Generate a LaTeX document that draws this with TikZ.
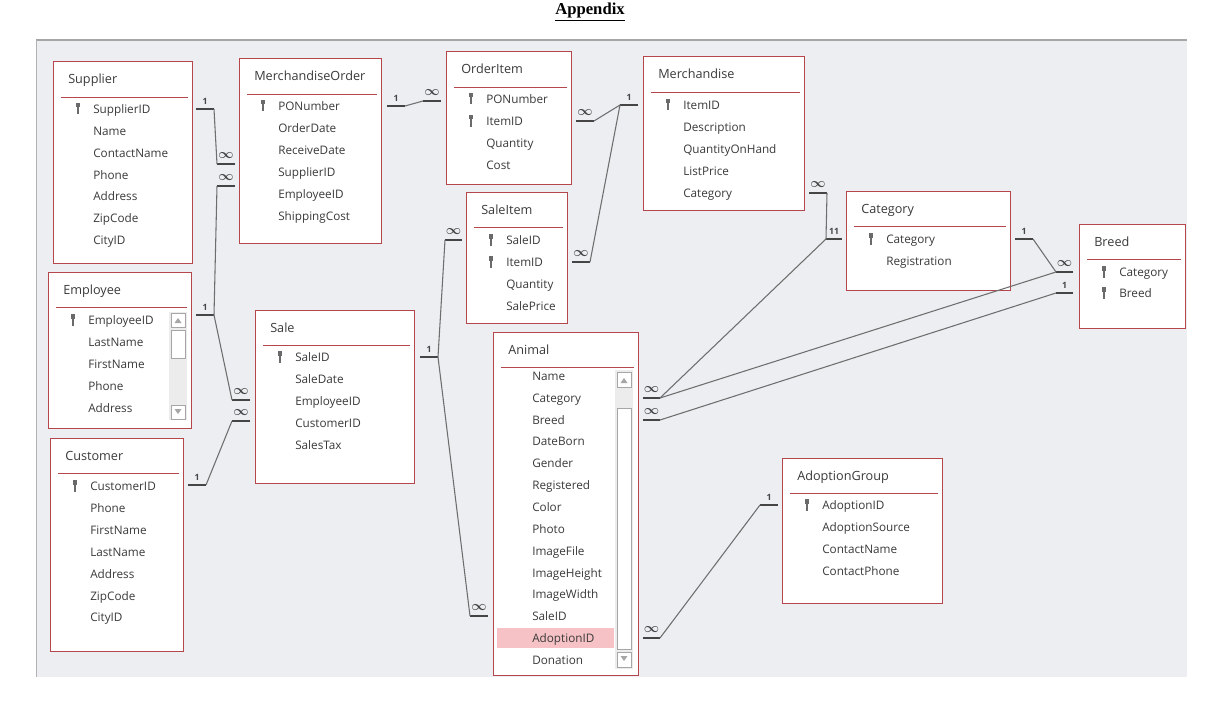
\documentclass[tikz,border=0pt]{standalone}
\usepackage{fontspec}
\usepackage{amsmath}
\setmainfont{Open Sans}
\newfontfamily\titlefont{Liberation Serif}
\definecolor{tblred}{HTML}{B5464C}
\definecolor{txt}{HTML}{3A3A3A}
\definecolor{bg}{HTML}{ECEEF1}
\definecolor{stubc}{HTML}{454545}
\definecolor{relc}{HTML}{6E6E6E}
\definecolor{keyc}{HTML}{6A6A6A}
\definecolor{pinkhl}{HTML}{F6C2C5}
\tikzset{
 tbl/.style={draw=tblred, fill=white, line width=0.75pt},
 sep/.style={draw=tblred, line width=0.7pt},
 ttl/.style={anchor=base west, font=\fontsize{9.5}{11}\selectfont, text=txt, inner sep=0pt},
 fld/.style={anchor=base west, font=\fontsize{8.8}{11}\selectfont, text=txt, inner sep=0pt},
 stub/.style={line width=2.2pt, draw=stubc},
 rel/.style={draw=relc, line width=0.8pt},
 card/.style={font=\fontsize{6.5}{7}\selectfont\bfseries, text=stubc, inner sep=0pt},
 sbar/.style={fill=white, draw=gray!70, line width=0.5pt}
}
\newcommand\tablebox[6]{%
 \draw[tbl] (#1,#2) rectangle (#3,#4);
 \node[ttl] (#6) at (#1+15,#2+22) {#5};
 \draw[sep] (#1+8,#2+35) -- (#3-4,#2+35);}
\newcommand\keyat[2]{%
 \fill[keyc] (#1-2.2,#2-6) rectangle (#1+2.2,#2-1.5);
 \fill[keyc] (#1-1.1,#2-1.5) rectangle (#1+1.1,#2+5.5);}
\newcommand\fld[3]{\node[fld] at (#1,#2+4.5) {#3};}
\newcommand\kfld[3]{\fld{#1}{#2}{#3}\keyat{#1-15}{#2}}
\newcommand\stub[5]{%
 \draw[stub] (#2,#4) -- (#3,#4);
 \coordinate (#1) at (#3,#4);
 \node[card] at ({(#2+#3)/2},#4-8) {#5};}
\newcommand\manysym{\fontsize{10}{10}\selectfont$\boldsymbol{\infty}$}
\begin{document}
\begin{tikzpicture}[x=0.75pt,y=-0.75pt]
\useasboundingbox (0,0) rectangle (1207,724);
% title
\node[font=\titlefont\fontsize{12.5}{14}\selectfont\bfseries, inner sep=0pt] (ttl) at (590,12) {\underline{Appendix}};
% background panel
\fill[bg] (36,40) rectangle (1187,677);
\draw[gray!70, line width=1.6pt] (36,40) -- (1187,40);
\draw[gray!60, line width=0.6pt] (36,40) -- (36,677);

% Supplier
\tablebox{53}{62}{192}{263}{Supplier}{supplier}
\kfld{93}{109}{SupplierID}
\fld{93}{131}{Name}
\fld{93}{153}{ContactName}
\fld{93}{175}{Phone}
\fld{93}{196}{Address}
\fld{93}{218}{ZipCode}
\fld{93}{240}{CityID}

% MerchandiseOrder
\tablebox{239}{59}{381}{243}{MerchandiseOrder}{morder}
\kfld{278}{106}{PONumber}
\fld{278}{128}{OrderDate}
\fld{278}{150}{ReceiveDate}
\fld{278}{172}{SupplierID}
\fld{278}{194}{EmployeeID}
\fld{278}{216}{ShippingCost}

% OrderItem
\tablebox{446}{52}{571}{184}{OrderItem}{orderitem}
\kfld{486}{99}{PONumber}
\kfld{486}{121}{ItemID}
\fld{486}{143}{Quantity}
\fld{486}{165}{Cost}

% Merchandise
\tablebox{643}{57}{804}{210}{Merchandise}{merch}
\kfld{683}{105}{ItemID}
\fld{683}{127}{Description}
\fld{683}{149}{QuantityOnHand}
\fld{683}{171}{ListPrice}
\fld{683}{193}{Category}

% SaleItem
\tablebox{466}{192}{567}{323}{SaleItem}{saleitem}
\kfld{506}{240}{SaleID}
\kfld{506}{262}{ItemID}
\fld{506}{284}{Quantity}
\fld{506}{306}{SalePrice}

% Category
\tablebox{846}{191}{1010}{290}{Category}{category}
\kfld{886}{239}{Category}
\fld{886}{261}{Registration}

% Breed
\tablebox{1079}{224}{1185}{328}{Breed}{breed}
\kfld{1119}{272}{Category}
\kfld{1119}{293}{Breed}

% Employee
\tablebox{48}{272}{191}{428}{Employee}{employee}
\kfld{88}{320}{EmployeeID}
\fld{88}{342}{LastName}
\fld{88}{364}{FirstName}
\fld{88}{386}{Phone}
\fld{88}{408}{Address}
\fill[gray!15] (169,312) rectangle (187,420);
\draw[sbar] (171,313) rectangle (185,327);
\fill[gray!70] (174.5,323) -- (181.5,323) -- (178,318) -- cycle;
\draw[sbar] (171,330) rectangle (185,358);
\draw[sbar] (171,405) rectangle (185,419);
\fill[gray!70] (174.5,409) -- (181.5,409) -- (178,414) -- cycle;

% Sale
\tablebox{255}{310}{414}{483}{Sale}{sale}
\kfld{295}{357}{SaleID}
\fld{295}{379}{SaleDate}
\fld{295}{401}{EmployeeID}
\fld{295}{423}{CustomerID}
\fld{295}{445}{SalesTax}

% Customer
\tablebox{50}{438}{183}{651}{Customer}{customer}
\kfld{90}{486}{CustomerID}
\fld{90}{508}{Phone}
\fld{90}{530}{FirstName}
\fld{90}{552}{LastName}
\fld{90}{574}{Address}
\fld{90}{596}{ZipCode}
\fld{90}{617}{CityID}

% Animal
\tablebox{493}{332}{638}{675}{Animal}{animal}
\fill[pinkhl] (497,628) rectangle (614,648);
\fld{532}{376}{Name}
\fld{532}{398}{Category}
\fld{532}{420}{Breed}
\fld{532}{441}{DateBorn}
\fld{532}{463}{Gender}
\fld{532}{485}{Registered}
\fld{532}{507}{Color}
\fld{532}{529}{Photo}
\fld{532}{551}{ImageFile}
\fld{532}{573}{ImageHeight}
\fld{532}{594}{ImageWidth}
\fld{532}{616}{SaleID}
\fld{532}{638}{AdoptionID}
\fld{532}{660}{Donation}
\fill[gray!15] (615,370) rectangle (633,669);
\draw[sbar] (617,372) rectangle (631,387);
\fill[gray!70] (620.5,383) -- (627.5,383) -- (624,378) -- cycle;
\draw[sbar] (617,408) rectangle (631,649);
\draw[sbar] (617,652) rectangle (631,667);
\fill[gray!70] (620.5,656) -- (627.5,656) -- (624,661) -- cycle;

% AdoptionGroup
\tablebox{782}{458}{942}{603}{AdoptionGroup}{adoption}
\kfld{822}{505}{AdoptionID}
\fld{822}{527}{AdoptionSource}
\fld{822}{549}{ContactName}
\fld{822}{571}{ContactPhone}

% stubs
\stub{s1}{196}{214}{109}{1}
\stub{m1}{235}{217}{164}{\manysym}
\stub{e1}{196}{214}{315}{1}
\stub{m2}{235}{217}{186}{\manysym}
\stub{sa1}{250}{232}{400}{\manysym}
\stub{sa2}{250}{232}{421}{\manysym}
\stub{c1}{188}{206}{485}{1}
\stub{m3}{387}{405}{106}{1}
\stub{o1}{441}{423}{101}{\manysym}
\stub{o2}{576}{594}{121}{\manysym}
\stub{me1}{638}{620}{105}{1}
\stub{si1}{572}{590}{262}{\manysym}
\stub{si2}{462}{445}{240}{\manysym}
\stub{sa3}{420}{438}{357}{1}
\stub{an1}{488}{470}{616}{\manysym}
\stub{me2}{809}{827}{193}{\manysym}
\stub{ca1}{842}{826}{239}{11}
\stub{ca2}{1015}{1033}{239}{1}
\stub{br1}{1073}{1056}{272}{\manysym}
\stub{br2}{1073}{1056}{293}{1}
\stub{an2}{643}{660}{398}{\manysym}
\stub{an3}{643}{660}{420}{\manysym}
\stub{an4}{643}{660}{638}{\manysym}
\stub{ag1}{778}{760}{505}{1}

% relationships
\draw[rel] (s1) -- (m1);
\draw[rel] (e1) -- (m2);
\draw[rel] (e1) -- (sa1);
\draw[rel] (c1) -- (sa2);
\draw[rel] (m3) -- (o1);
\draw[rel] (o2) -- (me1);
\draw[rel] (si1) -- (me1);
\draw[rel] (sa3) -- (si2);
\draw[rel] (sa3) -- (an1);
\draw[rel] (me2) -- (ca1);
\draw[rel] (an2) -- (ca1);
\draw[rel] (ca2) -- (br1);
\draw[rel] (an2) -- (br1);
\draw[rel] (an3) -- (br2);
\draw[rel] (an4) -- (ag1);
\end{tikzpicture}
\end{document}
